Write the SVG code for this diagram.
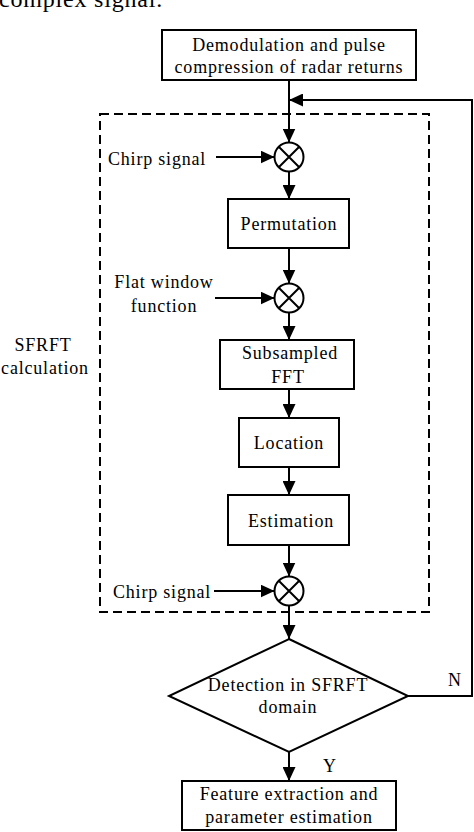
<svg xmlns="http://www.w3.org/2000/svg" width="474" height="832" viewBox="0 0 474 832" font-family="'Liberation Serif','Times New Roman',serif">
<style>
text{font-family:"Liberation Serif","Times New Roman",serif;font-size:18px;fill:#000;letter-spacing:0.8px}
.c{text-anchor:middle}
.box{fill:#fff;stroke:#000;stroke-width:2}
.ln{fill:none;stroke:#000;stroke-width:2}
.ar{fill:none;stroke:#000;stroke-width:2;marker-end:url(#ah)}
</style>
<defs>
<marker id="ah" markerUnits="userSpaceOnUse" markerWidth="14" markerHeight="13" refX="14" refY="6.5" orient="auto">
<path d="M0,0 L14,6.5 L0,13 z" fill="#000"/>
</marker>
</defs>
<rect width="474" height="832" fill="#fff"/>
<text x="-1" y="7" style="font-size:24px;letter-spacing:0.8px">complex signal.</text>

<g id="sfrft-region">
<rect x="100" y="114" width="329" height="498" fill="none" stroke="#000" stroke-width="2" stroke-dasharray="9 5"/>
<text class="c" x="43" y="351">SFRFT</text>
<text class="c" x="45" y="374">calculation</text>
</g>

<g id="connectors">
<path class="ar" d="M289,80 V142.5"/>
<path class="ar" d="M408,696 H472 V100 H289"/>
<path class="ar" d="M216,157 H274.5"/>
<path class="ar" d="M289,171.5 V199"/>
<path class="ar" d="M289,248 V283.5"/>
<path class="ar" d="M215,298 H274.5"/>
<path class="ar" d="M289,312.5 V340"/>
<path class="ar" d="M289,389 V418"/>
<path class="ar" d="M289,467 V495"/>
<path class="ar" d="M289,545 V576.5"/>
<path class="ar" d="M214,591 H274.5"/>
<path class="ar" d="M289,605.5 V639"/>
<path class="ar" d="M289,752 V781"/>
<text x="448" y="686">N</text>
<text x="323" y="772">Y</text>
</g>

<g id="demod">
<rect class="box" x="162" y="30" width="254" height="50"/>
<text class="c" x="289" y="51">Demodulation and pulse</text>
<text class="c" x="289" y="73">compression of radar returns</text>
</g>

<g id="mult1">
<circle class="box" cx="289" cy="157" r="14.5"/>
<path class="ln" d="M278.75,146.75 L299.25,167.25 M299.25,146.75 L278.75,167.25"/>
</g>
<text id="chirp1" x="108" y="165">Chirp signal</text>

<g id="permutation">
<rect class="box" x="228" y="199" width="121" height="49"/>
<text class="c" x="289" y="230">Permutation</text>
</g>

<g id="mult2">
<circle class="box" cx="289" cy="298" r="14.5"/>
<path class="ln" d="M278.75,287.75 L299.25,308.25 M299.25,287.75 L278.75,308.25"/>
</g>
<g id="flatwin">
<text class="c" x="164" y="288">Flat window</text>
<text class="c" x="164" y="312">function</text>
</g>

<g id="subfft">
<rect class="box" x="220" y="340" width="134" height="49"/>
<text class="c" x="290" y="359">Subsampled</text>
<text class="c" x="288" y="383">FFT</text>
</g>

<g id="location">
<rect class="box" x="239" y="418" width="100" height="49"/>
<text class="c" x="289" y="449">Location</text>
</g>

<g id="estimation">
<rect class="box" x="228" y="495" width="121" height="50"/>
<text class="c" x="291" y="527">Estimation</text>
</g>

<g id="mult3">
<circle class="box" cx="289" cy="591" r="14.5"/>
<path class="ln" d="M278.75,580.75 L299.25,601.25 M299.25,580.75 L278.75,601.25"/>
</g>
<text id="chirp3" x="113" y="598">Chirp signal</text>

<g id="detection">
<path class="box" d="M289,639 L408,696 L289,752 L169,696 Z"/>
<text class="c" x="288" y="691">Detection in SFRFT</text>
<text class="c" x="288" y="713">domain</text>
</g>

<g id="feature">
<rect class="box" x="182" y="781" width="214" height="49"/>
<text class="c" x="289" y="800">Feature extraction and</text>
<text class="c" x="289" y="823">parameter estimation</text>
</g>
</svg>
